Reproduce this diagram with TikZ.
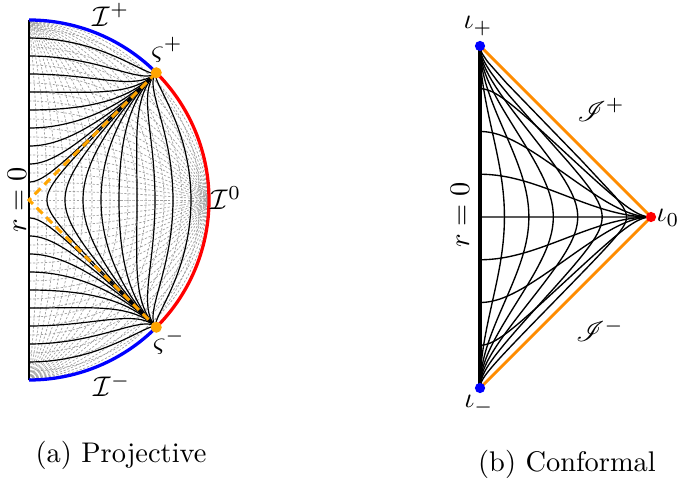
\documentclass[tikz,border=0pt]{standalone}
\usepackage{amsmath}
\usepackage{mathrsfs}
\definecolor{orL}{RGB}{255,165,0}
\definecolor{orR}{RGB}{255,140,0}
\begin{document}
\begin{tikzpicture}[x=0.352pt,y=0.352pt,
  declare function={
    mysech(\s)=1/cosh(\s);
    hypB(\q,\s)=\q/(mysech(\s)+sqrt(mysech(\s)^2+\q*\q*(1+tanh(\s)^2)));
  },
  gridline/.style={gray!75, line width=0.24pt, dash pattern=on 0.8pt off 0.6pt},
  curve/.style={black, line width=0.42pt, line join=round},
  ccurve/.style={black, line width=0.48pt, line join=round},
  lbl/.style={inner sep=0pt, font=\fontsize{10}{12}\selectfont},
  ]
\useasboundingbox (0,0) rectangle (685,478);
% ---------------- left: projective ----------------
\coordinate (C) at (29,278);
\coordinate (sp) at (156.28,405.28);
\coordinate (sm) at (156.28,150.72);
\coordinate (top) at (29,458);
\coordinate (bot) at (29,98);
% grey coordinate grid (constant t and constant r lines)
\foreach \k in {-19,...,19}{
  \pgfmathsetmacro\bb{\k/20}
  \pgfmathsetmacro\cc{2*\bb/(1-\bb*\bb)}
  \pgfmathsetmacro\mm{(1+\bb*\bb)/(1-\bb*\bb)}
  \draw[gridline] plot[domain=0:90, samples=50, variable=\th]
    ({29+180*\mm*sin(\th)/(cos(\th)+\mm)},{278+180*\cc*cos(\th)/(cos(\th)+\mm)});
}
\foreach \k in {1,...,19}{
  \pgfmathsetmacro\bb{\k/20}
  \pgfmathsetmacro\cc{2*\bb/(1-\bb*\bb)}
  \pgfmathsetmacro\mm{(1+\bb*\bb)/(1-\bb*\bb)}
  \draw[gridline] plot[domain=-90:90, samples=91, variable=\th]
    ({29+180*\cc*cos(\th)/(cos(\th)+\mm)},{278+180*\mm*sin(\th)/(cos(\th)+\mm)});
}
% timelike hyperbolas
\foreach \k in {1,...,9}{
  \pgfmathsetmacro\tv{2*(\k/10)/(1-(\k/10)^2)}
  \draw[curve] plot[domain=0:7, samples=120, variable=\s]
    ({29+180*tanh(\s)*hypB(\tv,\s)},{278+180*hypB(\tv,\s)}) -- (sp);
  \draw[curve] plot[domain=0:7, samples=120, variable=\s]
    ({29+180*tanh(\s)*hypB(\tv,\s)},{278-180*hypB(\tv,\s)}) -- (sm);
}
% spacelike hyperbolas
\foreach \k in {1,...,9}{
  \pgfmathsetmacro\rv{2*(\k/10)/(1-(\k/10)^2)}
  \draw[curve] (sm) -- plot[domain=-7:7, samples=200, variable=\s]
    ({29+180*hypB(\rv,\s)},{278+180*tanh(\s)*hypB(\rv,\s)}) -- (sp);
}
% axis and boundary
\draw[black, line width=0.4pt] (bot) -- (top);
\draw[blue, line width=1.15pt] plot[domain=90:45, samples=40] ({29+180*cos(\x)},{278+180*sin(\x)});
\draw[blue, line width=1.15pt] plot[domain=-45:-90, samples=40] ({29+180*cos(\x)},{278+180*sin(\x)});
\draw[red, line width=1.15pt] plot[domain=45:-45, samples=80] ({29+180*cos(\x)},{278+180*sin(\x)});
\draw[orL, line width=1.1pt, dash pattern=on 2.9pt off 1.9pt] (sp) -- (C) -- (sm);
\fill[orL] (sp) circle[radius=1.95pt];
\fill[orL] (sm) circle[radius=1.95pt];
% labels
\node[lbl] (Ip) at (111,463) {$\mathcal{I}^+$};
\node[lbl] (sgp) at (167,428) {$\varsigma^+$};
\node[lbl] (Izero) at (226,280) {$\mathcal{I}^0$};
\node[lbl] (sgm) at (169,136) {$\varsigma^-$};
\node[lbl] (Im) at (112,93) {$\mathcal{I}^-$};
\node[lbl, rotate=90] (r0a) at (17,278) {$r=0$};
\node[lbl] (capa) at (121,23) {(a) Projective};
% ---------------- right: conformal ----------------
\coordinate (ip) at (480,432);
\coordinate (im) at (480,90);
\coordinate (i0) at (651,261);
% constant-t curves
\foreach \k in {-3,...,3}{
  \pgfmathsetmacro\tz{tan(\k*22.5)}
  \pgfmathsetmacro\vs{\k*22.5}
  \draw[ccurve] plot[domain=\vs:89.6, samples=90, variable=\v]
    ({480+0.95*(\v-atan(2*\tz-tan(\v)))},{261+0.95*(\v+atan(2*\tz-tan(\v)))}) -- (i0);
}
% constant-r curves
\foreach \k in {1,...,6}{
  \pgfmathsetmacro\rz{tan(\k*90/7)}
  \draw[ccurve] (im) -- plot[domain=-89.6:89.6, samples=140, variable=\v]
    ({480+0.95*(\v-atan(tan(\v)-2*\rz))},{261+0.95*(\v+atan(tan(\v)-2*\rz))}) -- (ip);
}
\draw[orR, line width=1pt] (ip) -- (i0) -- (im);
\draw[black, line width=1.1pt] (im) -- (ip);
\fill[blue] (ip) circle[radius=1.8pt];
\fill[blue] (im) circle[radius=1.8pt];
\fill[red] (i0) circle[radius=1.8pt];
\node[lbl] (iotp) at (478,452) {$\iota_+$};
\node[lbl] (scrp) at (601,368) {$\mathscr{I}^+$};
\node[lbl] (iotz) at (668,260) {$\iota_0$};
\node[lbl] (scrm) at (600,148) {$\mathscr{I}^-$};
\node[lbl] (iotm) at (479,73) {$\iota_-$};
\node[lbl, rotate=90] (r0b) at (460,263) {$r=0$};
\node[lbl] (capb) at (567,14) {(b) Conformal};
\end{tikzpicture}
\end{document}
